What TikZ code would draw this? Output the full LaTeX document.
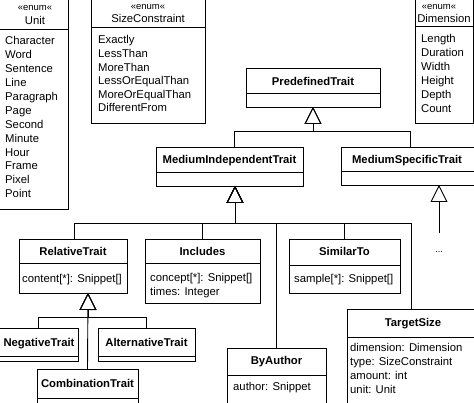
\documentclass[tikz,border=0pt]{standalone}
\usepackage{fontspec}
\setmainfont{Liberation Sans}
\usetikzlibrary{arrows.meta,calc}
\newcommand\umlbox[6]{%
  \node[box, minimum width={#4-#2}, minimum height={#5-#3}] (#1) at (#2,#3) {};
  \draw[sepline] (#1.west |- 0,#6) -- (#1.east |- 0,#6);}
\begin{document}
\begin{tikzpicture}[x=1pt,y=-1pt,
  box/.style={draw, line width=0.9pt, anchor=north west, inner sep=0pt, outer sep=0pt},
  sepline/.style={line width=0.9pt},
  ttl/.style={font=\fontsize{11.3}{13}\selectfont\bfseries, inner sep=0pt, text height=8.2pt, text depth=0.5pt},
  att/.style={font=\fontsize{11.3}{13}\selectfont, anchor=west, inner sep=0pt, text height=8.2pt, text depth=0.5pt},
  stereo/.style={font=\fontsize{9.5}{11}\selectfont, inner sep=0pt, text height=6.9pt, text depth=0.4pt},
  gen/.style={line width=0.9pt, -{Triangle[open,length=17pt,width=17pt]}}
]
\useasboundingbox (0,0) rectangle (474,403);

% ---------- enumerations ----------
\umlbox{Unit}{-1}{-5}{68}{209}{29}
\node[stereo] (UnitS) at (35,7.5) {«enum«};
\node[att, anchor=center] (UnitT) at (35,20.5) {Unit};
\foreach \t [count=\i from 0] in {Character,Word,Sentence,Line,Paragraph,Page,Second,Minute,Hour,Frame,Pixel,Point}
  \node[att] (unit\i) at (5,41+13.9*\i) {\t};

\umlbox{SC}{91}{-5}{205}{123}{27}
\node[stereo] (SCS) at (148,6.5) {«enum«};
\node[att, anchor=center] (SCT) at (148,19) {SizeConstraint};
\foreach \t [count=\i from 0] in {Exactly,LessThan,MoreThan,LessOrEqualThan,MoreOrEqualThan,DifferentFrom}
  \node[att] (sc\i) at (98,40+13.6*\i) {\t};

\umlbox{Dim}{415}{-5}{473}{123}{26}
\node[stereo] (DimS) at (439,6.5) {«enum«};
\node[att, anchor=center] (DimT) at (444,19) {Dimension};
\foreach \t [count=\i from 0] in {Length,Duration,Width,Height,Depth,Count}
  \node[att] (dim\i) at (421,39+14*\i) {\t};

% ---------- classes ----------
\umlbox{PT}{246}{68}{380}{107}{93}
\node[ttl] (PTt) at (313,82) {PredefinedTrait};

\umlbox{MIT}{156}{147}{303}{186}{172}
\node[ttl] (MITt) at (229.5,160) {MediumIndependentTrait};

\umlbox{MST}{341}{147}{476}{185}{171}
\node[ttl] (MSTt) at (407,160) {MediumSpecificTrait};

\umlbox{RT}{19}{239}{127}{293}{263}
\node[ttl] (RTt) at (73,252) {RelativeTrait};
\node[att] (RTa) at (22,279) {content[*]: Snippet[]};

\umlbox{INC}{145}{239}{260}{303}{263}
\node[ttl] (INCt) at (202.5,252) {Includes};
\node[att] (INCa) at (150,278) {concept[*]: Snippet[]};
\node[att] (INCb) at (150,292) {times: Integer};

\umlbox{SIM}{289}{239}{400}{293}{265}
\node[ttl] (SIMt) at (344.5,252) {SimilarTo};
\node[att] (SIMa) at (294,279) {sample[*]: Snippet[]};

\umlbox{BA}{227}{348}{326}{412}{375}
\node[ttl] (BAt) at (276.5,361) {ByAuthor};
\node[att] (BAa) at (233,387) {author: Snippet};

\umlbox{TS}{347}{309}{479}{412}{337}
\node[ttl] (TSt) at (413,323) {TargetSize};
\node[att] (TSa) at (350,348) {dimension: Dimension};
\node[att] (TSb) at (350,362) {type: SizeConstraint};
\node[att] (TSc) at (350,376) {amount: int};
\node[att] (TSd) at (350,389.5) {unit: Unit};

\umlbox{NT}{-1}{328}{78}{361}{356}
\node[ttl] (NTt) at (39,343) {NegativeTrait};

\umlbox{AT}{98}{328}{195}{361}{356}
\node[ttl] (ATt) at (146.5,343) {AlternativeTrait};

\umlbox{CT}{37}{369}{138}{412}{398}
\node[ttl] (CTt) at (87.5,384) {CombinationTrait};

\node[font=\fontsize{9}{10}\selectfont, inner sep=0pt] (dots) at (439,252) {...};

% ---------- generalizations ----------
\coordinate (barP) at (0,131);
\coordinate (barM) at (0,223);
\coordinate (barR) at (0,317);
\coordinate (MITtip) at (235,186);
\coordinate (MSTtip) at (439,185);
\coordinate (RTtip) at (88,293);
\coordinate (dotsTop) at (439,233);
\coordinate (MITtop) at ($(MIT.north)+(4.5,0)$);
\coordinate (MSTtop) at ($(MST.north)+(1.5,0)$);
\coordinate (RTtop) at ($(RT.north)+(1,0)$);
\coordinate (TStop) at ($(TS.north)+(-2,0)$);

\draw[gen] (MITtop) -- (MITtop |- barP) -| (PT.south);
\draw[gen] (MSTtop) -- (MSTtop |- barP) -| (PT.south);

\draw[gen] (RTtop) -- (RTtop |- barM) -| (MITtip);
\draw[gen] (INC.north) -- (INC.north |- barM) -| (MITtip);
\draw[gen] (BA.north) -- (BA.north |- barM) -| (MITtip);
\draw[gen] (SIM.north) -- (SIM.north |- barM) -| (MITtip);
\draw[gen] (TStop) -- (TStop |- barM) -| (MITtip);

\draw[gen] (dotsTop) -- (MSTtip);

\draw[gen] (NT.north) -- (NT.north |- barR) -| (RTtip);
\draw[gen] (AT.north) -- (AT.north |- barR) -| (RTtip);
\draw[gen] (CT.north) -- (RTtip);
\end{tikzpicture}
\end{document}
